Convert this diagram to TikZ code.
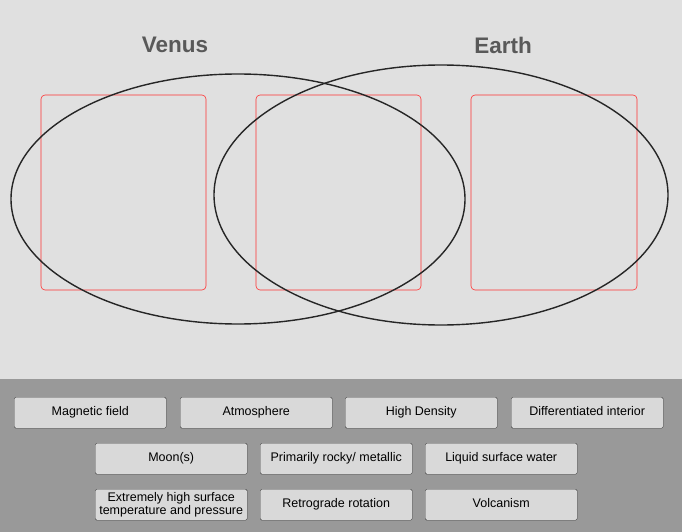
\documentclass[tikz,border=0pt]{standalone}
\usepackage{fontspec}
\setmainfont{Liberation Sans}
\begin{document}
\begin{tikzpicture}[x=1pt,y=-1pt,
  btn/.style={draw=black!75,fill=black!15,rounded corners=1.5pt,minimum width=152pt,minimum height=31pt,inner sep=1pt,font=\fontsize{12.5}{12.5}\selectfont,align=center,anchor=north west},
  one/.style={text height=9pt,text depth=3pt},
  zone/.style={draw=red!80,rounded corners=4pt,line width=0.6pt},
  ring/.style={draw=black!85,line width=1.4pt},
  ttl/.style={font=\fontsize{22.5}{22.5}\selectfont\bfseries,text=black!65}]
\useasboundingbox (0,0) rectangle (682,532);
\fill[black!12] (0,0) rectangle (682,379);
\fill[black!40] (0,379) rectangle (682,532);
\node[ttl] (venus) at (175,45) {Venus};
\node[ttl] (earth) at (503,45) {Earth};
\draw[zone] (41,95) rectangle (206,290);
\draw[zone] (256,95) rectangle (421,290);
\draw[zone] (471,95) rectangle (637,290);
\draw[ring] (238,199) ellipse [x radius=227, y radius=125];
\draw[ring] (441,195) ellipse [x radius=227, y radius=130];
\node[btn,one] (b1) at (14,397) {Magnetic field};
\node[btn,one] (b2) at (180,397) {Atmosphere};
\node[btn,one] (b3) at (345,397) {High Density};
\node[btn,one] (b4) at (511,397) {Differentiated interior};
\node[btn,one] (b5) at (95,443) {Moon(s)};
\node[btn,one] (b6) at (260,443) {Primarily rocky/ metallic};
\node[btn,one] (b7) at (425,443) {Liquid surface water};
\node[btn,font=\fontsize{12.5}{11}\selectfont] (b8) at (95,489) {Extremely high surface\\temperature and pressure};
\node[btn,one] (b9) at (260,489) {Retrograde rotation};
\node[btn,one] (b10) at (425,489) {Volcanism};
\end{tikzpicture}
\end{document}
